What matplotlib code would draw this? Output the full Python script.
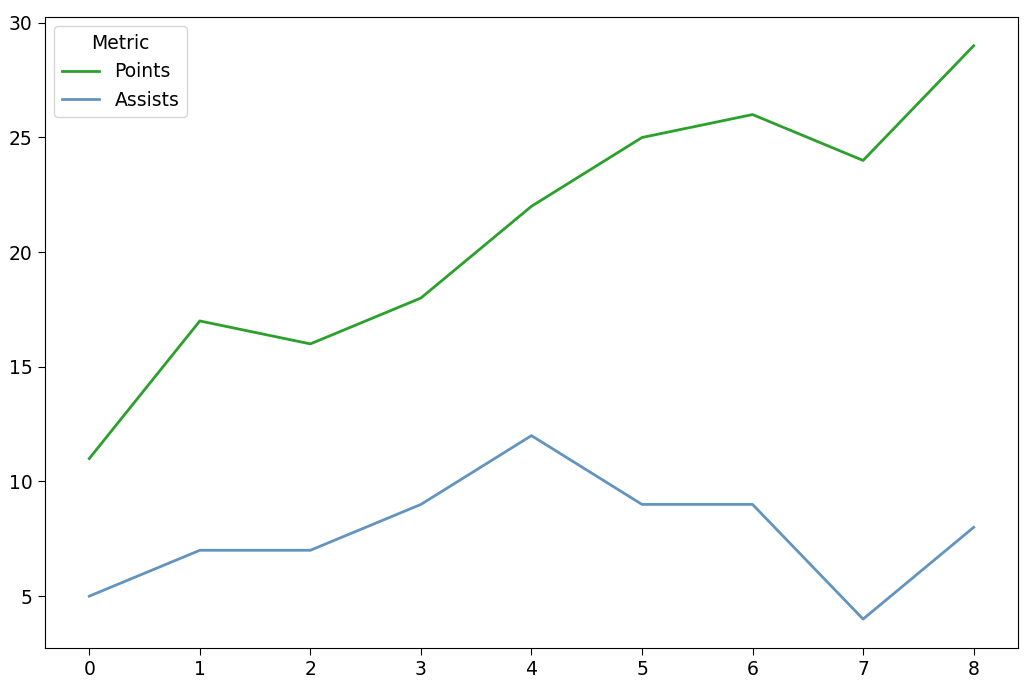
import matplotlib.pyplot as plt

# Game-by-game stats
games = [0, 1, 2, 3, 4, 5, 6, 7, 8]
points = [11, 17, 16, 18, 22, 25, 26, 24, 29]
assists = [5, 7, 7, 9, 12, 9, 9, 4, 8]

plt.rcParams['font.size'] = 13.5

fig = plt.figure(figsize=(10.24, 6.84), dpi=100)
ax = fig.add_axes([0.044, 0.053, 0.950, 0.922])

ax.plot(games, points, color='#2ca02c', linewidth=2.0, label='Points')
ax.plot(games, assists, color='steelblue', linewidth=2.0, alpha=0.85, label='Assists')

ax.set_yticks([5, 10, 15, 20, 25, 30])
ax.tick_params(length=5, pad=4)
ax.legend(title='Metric', loc='upper left')

fig.savefig('out.png', dpi=100)
